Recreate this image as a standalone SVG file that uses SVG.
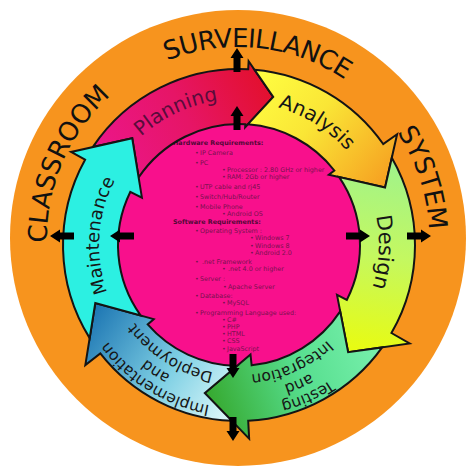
<svg xmlns="http://www.w3.org/2000/svg" width="474" height="474" viewBox="0 0 474 474">
<style>
.arr{stroke:#141414;stroke-width:2;stroke-linejoin:miter}
.title{font-family:"DejaVu Sans",sans-serif;font-size:26px;fill:#111}
.lbl{font-family:"DejaVu Sans",sans-serif;fill:#161616}
.req{font-family:"DejaVu Sans",sans-serif;font-size:6.4px;fill:#78124f}
.b{font-weight:bold;fill:#520936}
.mk{fill:#000}
</style>
<defs>
<path id="tt" d="M238,429 A191,191 0 1 1 238,47 A191,191 0 1 1 238,429"/>
<path id="c130" d="M239,375 A130,130 0 1 1 239,115 A130,130 0 1 1 239,375"/>
<path id="c140" d="M239,385 A140,140 0 1 1 239,105 A140,140 0 1 1 239,385"/>
<path id="c143" d="M239,388 A143,143 0 1 1 239,102 A143,143 0 1 1 239,388"/>
<path id="c146" d="M239,391 A146,146 0 1 1 239,99 A146,146 0 1 1 239,391"/>
<path id="c147" d="M239,392 A147,147 0 1 1 239,98 A147,147 0 1 1 239,392"/>
<path id="c163" d="M239,408 A163,163 0 1 1 239,82 A163,163 0 1 1 239,408"/>
<linearGradient id="gPlan" gradientUnits="userSpaceOnUse" x1="100" y1="180" x2="270" y2="90">
<stop offset="0" stop-color="#EC168E"/><stop offset="0.55" stop-color="#E61566"/><stop offset="1" stop-color="#E3102E"/>
</linearGradient>
<linearGradient id="gAna" gradientUnits="userSpaceOnUse" x1="250" y1="75" x2="385" y2="185">
<stop offset="0" stop-color="#FFFF42"/><stop offset="0.45" stop-color="#FAE636"/><stop offset="1" stop-color="#F6A021"/>
</linearGradient>
<linearGradient id="gDes" gradientUnits="userSpaceOnUse" x1="390" y1="160" x2="360" y2="350">
<stop offset="0" stop-color="#9FF38C"/><stop offset="0.5" stop-color="#C4F860"/><stop offset="1" stop-color="#E8FB12"/>
</linearGradient>
<linearGradient id="gTes" gradientUnits="userSpaceOnUse" x1="385" y1="330" x2="205" y2="395">
<stop offset="0" stop-color="#7CF2B0"/><stop offset="0.5" stop-color="#56DE8E"/><stop offset="1" stop-color="#36A82E"/>
</linearGradient>
<linearGradient id="gImp" gradientUnits="userSpaceOnUse" x1="240" y1="410" x2="95" y2="310">
<stop offset="0" stop-color="#E4FBFB"/><stop offset="0.45" stop-color="#7FD0E4"/><stop offset="1" stop-color="#1F78B4"/>
</linearGradient>
<path id="mkp" d="M0,0 L6.5,10 L3.5,10 L3.5,24 L-3.5,24 L-3.5,10 L-6.5,10 Z"/>
</defs>

<circle cx="238" cy="238" r="228" fill="#F7941E"/>

<g id="requirements">
<circle cx="240" cy="244" r="124" fill="#F8108C"/>
<text class="req">
<tspan class="b" x="173" y="145">Hardware Requirements:</tspan>
<tspan x="195" y="155">•</tspan><tspan x="200" y="155">IP Camera</tspan>
<tspan x="195" y="165">•</tspan><tspan x="200" y="165">PC</tspan>
<tspan x="222" y="172">•</tspan><tspan x="227" y="172">Processor : 2.80 GHz or higher</tspan>
<tspan x="222" y="179">•</tspan><tspan x="227" y="179">RAM: 2Gb or higher</tspan>
<tspan x="195" y="189">•</tspan><tspan x="200" y="189">UTP cable and rj45</tspan>
<tspan x="195" y="199">•</tspan><tspan x="200" y="199">Switch/Hub/Router</tspan>
<tspan x="195" y="209">•</tspan><tspan x="200" y="209">Mobile Phone</tspan>
<tspan x="222" y="216">•</tspan><tspan x="227" y="216">Android OS</tspan>
<tspan class="b" x="173" y="224">Software Requirements:</tspan>
<tspan x="195" y="233">•</tspan><tspan x="200" y="233">Operating System :</tspan>
<tspan x="250" y="240">•</tspan><tspan x="255" y="240">Windows 7</tspan>
<tspan x="250" y="248">•</tspan><tspan x="255" y="248">Windows 8</tspan>
<tspan x="250" y="255">•</tspan><tspan x="255" y="255">Android 2.0</tspan>
<tspan x="195" y="264">•</tspan><tspan x="202" y="264">.net Framework</tspan>
<tspan x="222" y="271">•</tspan><tspan x="228" y="271">.net 4.0 or higher</tspan>
<tspan x="195" y="281">•</tspan><tspan x="200" y="281">Server :</tspan>
<tspan x="223" y="289">•</tspan><tspan x="228" y="289">Apache Server</tspan>
<tspan x="195" y="298">•</tspan><tspan x="200" y="298">Database:</tspan>
<tspan x="222" y="305">•</tspan><tspan x="227" y="305">MySQL</tspan>
<tspan x="195" y="315">•</tspan><tspan x="200" y="315">Programming Language used:</tspan>
<tspan x="222" y="322">•</tspan><tspan x="227" y="322">C#</tspan>
<tspan x="222" y="329">•</tspan><tspan x="227" y="329">PHP</tspan>
<tspan x="222" y="336">•</tspan><tspan x="227" y="336">HTML</tspan>
<tspan x="222" y="343">•</tspan><tspan x="227" y="343">CSS</tspan>
<tspan x="222" y="351">•</tspan><tspan x="227" y="351">JavaScript</tspan>
</text>
</g>

<g id="planning">
<path class="arr" fill="url(#gPlan)" d="M92.76,147.07 A176,176 0 0 1 248.2,69.25 L248.62,61.26 L273.2,96.89 L245.17,127.17 L245.33,124.17 A121,121 0 0 0 138.63,177.43 L132.23,138.23 Z"/>
<text class="lbl" font-size="20" style="fill:#5a0c3c"><textPath href="#c146" startOffset="43%" text-anchor="middle">Planning</textPath></text>
</g>
<g id="analysis">
<path class="arr" fill="url(#gAna)" d="M254.43,69.68 A176,176 0 0 1 383.18,144.05 L397.1,134.3 L385.07,187.46 L328.83,174.81 L334.35,170.5 A121,121 0 0 0 247.8,124.32 L273.2,96.89 Z"/>
<text class="lbl" font-size="20"><textPath href="#c143" startOffset="59%" text-anchor="middle">Analysis</textPath></text>
</g>
<g id="design">
<path class="arr" fill="url(#gDes)" d="M391.81,157.68 A176,176 0 0 1 391.42,333 L409.6,343.5 L348.13,352.24 L337.01,294.94 L346.81,299.93 A121,121 0 0 0 339.18,177.14 L385.07,187.46 Z"/>
<text class="lbl" font-size="21"><textPath href="#c140" startOffset="75.8%" text-anchor="middle">Design</textPath></text>
</g>
<g id="testing">
<path class="arr" fill="url(#gTes)" d="M382.14,347.4 A176,176 0 0 1 248.2,420.75 L249.15,438.73 L204.8,393.11 L250.5,354.4 L251.65,365.34 A121,121 0 0 0 340.19,311.34 L348.13,352.24 Z"/>
<text class="lbl" font-size="15.5"><textPath href="#c163" startOffset="93.2%" text-anchor="middle">Testing</textPath><textPath href="#c147" startOffset="93.5%" text-anchor="middle">and</textPath><textPath href="#c130" startOffset="93.3%" text-anchor="middle">Integration</textPath></text>
</g>
<g id="implementation">
<path class="arr" fill="url(#gImp)" d="M231.77,420.85 A176,176 0 0 1 100.31,353.36 L85.34,365.06 L95.28,303.06 L153.72,319.14 L147.68,324.39 A121,121 0 0 0 236.83,365.98 L204.8,393.11 Z"/>
<text class="lbl" font-size="15.5"><textPath href="#c163" startOffset="8.9%" text-anchor="middle">Implementation</textPath><textPath href="#c147" startOffset="9.3%" text-anchor="middle">and</textPath><textPath href="#c130" startOffset="9%" text-anchor="middle">Deployment</textPath></text>
</g>
<g id="maintenance">
<path class="arr" fill="#2CF0E2" d="M89.66,338.13 A176,176 0 0 1 85.07,159.68 L71.08,151.92 L132.23,138.23 L141.93,197.65 L130.25,191.95 A121,121 0 0 0 140.7,315.56 L95.28,303.06 Z"/>
<text class="lbl" font-size="18"><textPath href="#c140" startOffset="26.1%" text-anchor="middle">Maintenance</textPath></text>
</g>

<g id="title">
<text class="title"><textPath href="#tt" startOffset="31.5%" text-anchor="middle">CLASSROOM</textPath></text>
<text class="title"><textPath href="#tt" startOffset="51.7%" text-anchor="middle" textLength="186" lengthAdjust="spacing">SURVEILLANCE</textPath></text>
<text class="title"><textPath href="#tt" startOffset="70%" text-anchor="middle">SYSTEM</textPath></text>
</g>

<g id="connectors" class="mk">
<use href="#mkp" transform="translate(237,48)"/>
<use href="#mkp" transform="translate(237,106)"/>
<use href="#mkp" transform="translate(50,236) rotate(-90)"/>
<use href="#mkp" transform="translate(110,236) rotate(-90)"/>
<use href="#mkp" transform="translate(370,236) rotate(90)"/>
<use href="#mkp" transform="translate(431,236) rotate(90)"/>
<use href="#mkp" transform="translate(233,378) rotate(180)"/>
<use href="#mkp" transform="translate(233,441) rotate(180)"/>
</g>
</svg>
